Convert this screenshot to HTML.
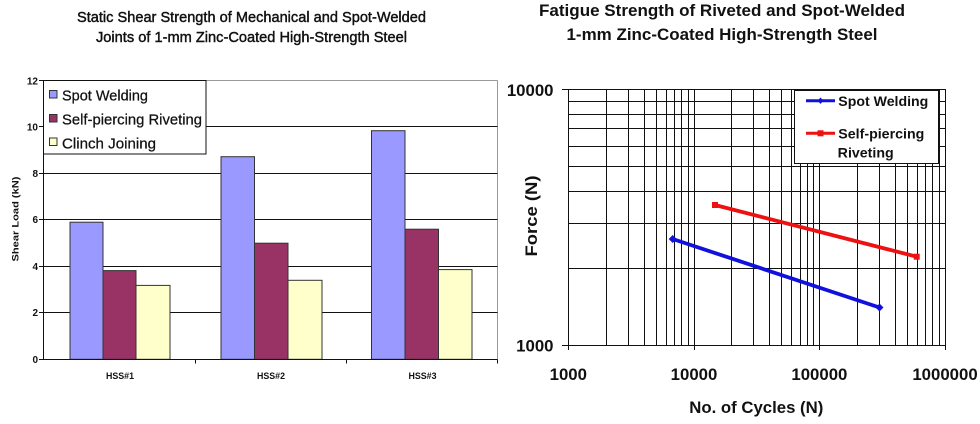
<!DOCTYPE html>
<html><head><meta charset="utf-8"><style>
html,body{margin:0;padding:0;background:#fff;}
svg{display:block;}
text{font-family:"Liberation Sans",Arial,sans-serif;fill:#111;}
</style></head><body>
<svg width="980" height="424" viewBox="0 0 980 424" xmlns="http://www.w3.org/2000/svg">
<rect width="980" height="424" fill="#fff"/>
<!-- LEFT CHART -->
<text x="251.5" y="22" font-size="15" text-anchor="middle" textLength="349" lengthAdjust="spacingAndGlyphs" style="stroke:#111;stroke-width:0.45">Static Shear Strength of Mechanical and Spot-Welded</text>
<text x="251.5" y="42" font-size="15" text-anchor="middle" textLength="311" lengthAdjust="spacingAndGlyphs" style="stroke:#111;stroke-width:0.45">Joints of 1-mm Zinc-Coated High-Strength Steel</text>
<g shape-rendering="crispEdges">
<line x1="43.5" y1="80.5" x2="497.5" y2="80.5" stroke="#999" stroke-width="1"/>
<line x1="497.5" y1="80.5" x2="497.5" y2="359.5" stroke="#999" stroke-width="1"/>
<line x1="43.5" y1="126.5" x2="497.5" y2="126.5" stroke="#111"/>
<line x1="43.5" y1="173.5" x2="497.5" y2="173.5" stroke="#111"/>
<line x1="43.5" y1="219.5" x2="497.5" y2="219.5" stroke="#111"/>
<line x1="43.5" y1="266.5" x2="497.5" y2="266.5" stroke="#111"/>
<line x1="43.5" y1="312.5" x2="497.5" y2="312.5" stroke="#111"/>
<!-- ticks -->
<line x1="39" y1="80.5" x2="43.5" y2="80.5" stroke="#111"/>
<line x1="39" y1="126.5" x2="43.5" y2="126.5" stroke="#111"/>
<line x1="39" y1="173.5" x2="43.5" y2="173.5" stroke="#111"/>
<line x1="39" y1="219.5" x2="43.5" y2="219.5" stroke="#111"/>
<line x1="39" y1="266.5" x2="43.5" y2="266.5" stroke="#111"/>
<line x1="39" y1="312.5" x2="43.5" y2="312.5" stroke="#111"/>
<line x1="39" y1="359.5" x2="43.5" y2="359.5" stroke="#111"/>
<line x1="195.5" y1="359.5" x2="195.5" y2="363.5" stroke="#111"/>
<line x1="346.5" y1="359.5" x2="346.5" y2="363.5" stroke="#111"/>
<line x1="497.5" y1="359.5" x2="497.5" y2="363.5" stroke="#111"/>
</g>
<!-- bars -->
<g stroke="#333" stroke-width="1">
<rect x="70" y="222.2" width="33" height="137.1" fill="#9999FF"/>
<rect x="103" y="270.6" width="33" height="88.7" fill="#993366"/>
<rect x="136" y="285.4" width="34" height="73.9" fill="#FFFFCC"/>
<rect x="221" y="156.7" width="33.5" height="202.6" fill="#9999FF"/>
<rect x="254.5" y="243.2" width="33.5" height="116.1" fill="#993366"/>
<rect x="288" y="280.3" width="34" height="79" fill="#FFFFCC"/>
<rect x="371.5" y="130.7" width="33.5" height="228.6" fill="#9999FF"/>
<rect x="405" y="229.2" width="33.5" height="130.1" fill="#993366"/>
<rect x="438.5" y="269.6" width="33.5" height="89.7" fill="#FFFFCC"/>
</g>
<line x1="43.5" y1="80" x2="43.5" y2="359.5" stroke="#111" shape-rendering="crispEdges"/>
<line x1="43.5" y1="359.5" x2="497.5" y2="359.5" stroke="#111" shape-rendering="crispEdges"/>
<!-- legend -->
<rect x="43.5" y="80.5" width="162.5" height="73.5" fill="#fff" stroke="#111" stroke-width="1" shape-rendering="crispEdges"/>
<rect x="49.5" y="90.5" width="7.5" height="7.5" fill="#9999FF" stroke="#333" stroke-width="1"/>
<rect x="49.5" y="114.5" width="7.5" height="7.5" fill="#993366" stroke="#333" stroke-width="1"/>
<rect x="49.5" y="138" width="7.5" height="7.5" fill="#FFFFCC" stroke="#333" stroke-width="1"/>
<g style="stroke:#111;stroke-width:0.25">
<text x="62" y="100.5" font-size="14.5" textLength="86" lengthAdjust="spacingAndGlyphs">Spot Welding</text>
<text x="62" y="124.5" font-size="14.5" textLength="140" lengthAdjust="spacingAndGlyphs">Self-piercing Riveting</text>
<text x="62" y="148.5" font-size="14.5" textLength="94" lengthAdjust="spacingAndGlyphs">Clinch Joining</text>
</g>
<!-- y labels -->
<g font-size="10" font-weight="bold" text-anchor="end">
<text x="38" y="84.5">12</text>
<text x="38" y="130.5">10</text>
<text x="38" y="177">8</text>
<text x="38" y="223">6</text>
<text x="38" y="270">4</text>
<text x="38" y="316">2</text>
<text x="38" y="363">0</text>
</g>
<text transform="translate(18.5,219) rotate(-90)" font-size="9.5" font-weight="bold" text-anchor="middle" textLength="85" lengthAdjust="spacingAndGlyphs">Shear Load (kN)</text>
<g font-size="9" font-weight="bold" text-anchor="middle">
<text x="120" y="379" textLength="28" lengthAdjust="spacingAndGlyphs">HSS#1</text>
<text x="271" y="379" textLength="28" lengthAdjust="spacingAndGlyphs">HSS#2</text>
<text x="422.5" y="379" textLength="28" lengthAdjust="spacingAndGlyphs">HSS#3</text>
</g>

<!-- RIGHT CHART -->
<text x="722" y="16" font-size="17" font-weight="bold" text-anchor="middle" textLength="366" lengthAdjust="spacingAndGlyphs">Fatigue Strength of Riveted and Spot-Welded</text>
<text x="722" y="40" font-size="17" font-weight="bold" text-anchor="middle" textLength="311" lengthAdjust="spacingAndGlyphs">1-mm Zinc-Coated High-Strength Steel</text>
<g stroke="#111" stroke-width="1" shape-rendering="crispEdges">
<!-- horizontal grid -->
<line x1="568" y1="89.5" x2="945" y2="89.5"/>
<line x1="568" y1="101.5" x2="945" y2="101.5"/>
<line x1="568" y1="114.5" x2="945" y2="114.5"/>
<line x1="568" y1="128.5" x2="945" y2="128.5"/>
<line x1="568" y1="146.5" x2="945" y2="146.5"/>
<line x1="568" y1="166.5" x2="945" y2="166.5"/>
<line x1="568" y1="191.5" x2="945" y2="191.5"/>
<line x1="568" y1="223.5" x2="945" y2="223.5"/>
<line x1="568" y1="268.5" x2="945" y2="268.5"/>
<line x1="562" y1="345.5" x2="945" y2="345.5"/>
<line x1="562" y1="89.5" x2="568" y2="89.5"/>
<!-- vertical grid -->
<line x1="568.5" y1="89" x2="568.5" y2="345.5"/>
<line x1="606.5" y1="89" x2="606.5" y2="345.5"/>
<line x1="628.5" y1="89" x2="628.5" y2="345.5"/>
<line x1="644.5" y1="89" x2="644.5" y2="345.5"/>
<line x1="656.5" y1="89" x2="656.5" y2="345.5"/>
<line x1="666.5" y1="89" x2="666.5" y2="345.5"/>
<line x1="674.5" y1="89" x2="674.5" y2="345.5"/>
<line x1="681.5" y1="89" x2="681.5" y2="345.5"/>
<line x1="688.5" y1="89" x2="688.5" y2="345.5"/>
<line x1="694.5" y1="89" x2="694.5" y2="350"/>
<line x1="731.5" y1="89" x2="731.5" y2="345.5"/>
<line x1="753.5" y1="89" x2="753.5" y2="345.5"/>
<line x1="769.5" y1="89" x2="769.5" y2="345.5"/>
<line x1="781.5" y1="89" x2="781.5" y2="345.5"/>
<line x1="791.5" y1="89" x2="791.5" y2="345.5"/>
<line x1="800.5" y1="89" x2="800.5" y2="345.5"/>
<line x1="807.5" y1="89" x2="807.5" y2="345.5"/>
<line x1="813.5" y1="89" x2="813.5" y2="345.5"/>
<line x1="819.5" y1="89" x2="819.5" y2="350"/>
<line x1="857.5" y1="89" x2="857.5" y2="345.5"/>
<line x1="879.5" y1="89" x2="879.5" y2="345.5"/>
<line x1="895.5" y1="89" x2="895.5" y2="345.5"/>
<line x1="907.5" y1="89" x2="907.5" y2="345.5"/>
<line x1="917.5" y1="89" x2="917.5" y2="345.5"/>
<line x1="925.5" y1="89" x2="925.5" y2="345.5"/>
<line x1="932.5" y1="89" x2="932.5" y2="345.5"/>
<line x1="939.5" y1="89" x2="939.5" y2="345.5"/>
<line x1="945.5" y1="89" x2="945.5" y2="350"/>
<line x1="568.5" y1="345" x2="568.5" y2="350"/>
</g>
<!-- series -->
<line x1="715" y1="205" x2="916.7" y2="256.7" stroke="#ee1111" stroke-width="3.8"/>
<rect x="712" y="202" width="6" height="6" fill="#ee1111"/>
<rect x="913.7" y="253.7" width="6" height="6" fill="#ee1111"/>
<line x1="672.7" y1="239" x2="879.5" y2="307.5" stroke="#1111dd" stroke-width="3.8"/>
<path d="M672.7 235 L676.7 239 L672.7 243 L668.7 239 Z" fill="#1111dd"/>
<path d="M879.5 303.5 L883.5 307.5 L879.5 311.5 L875.5 307.5 Z" fill="#1111dd"/>
<!-- legend -->
<rect x="794.5" y="90.5" width="144" height="73" fill="#fff" stroke="#111" stroke-width="1" shape-rendering="crispEdges"/>
<line x1="806" y1="100.7" x2="835" y2="100.7" stroke="#1111dd" stroke-width="3"/>
<path d="M820.5 97.5 L823.5 100.7 L820.5 103.9 L817.5 100.7 Z" fill="#1111dd"/>
<line x1="806" y1="133.3" x2="835" y2="133.3" stroke="#ee1111" stroke-width="3"/>
<rect x="817.5" y="130.3" width="6" height="6" fill="#ee1111"/>
<g font-size="14" font-weight="bold">
<text x="838.3" y="106" textLength="90" lengthAdjust="spacingAndGlyphs">Spot Welding</text>
<text x="838.3" y="138.5" textLength="86" lengthAdjust="spacingAndGlyphs">Self-piercing</text>
<text x="837.7" y="157.5" textLength="56" lengthAdjust="spacingAndGlyphs">Riveting</text>
</g>
<!-- axis labels -->
<g font-size="16.8" font-weight="bold">
<text x="553.5" y="96" text-anchor="end">10000</text>
<text x="553.5" y="351.5" text-anchor="end">1000</text>
<text x="568.3" y="380" text-anchor="middle">1000</text>
<text x="694" y="380" text-anchor="middle">10000</text>
<text x="819.4" y="380" text-anchor="middle">100000</text>
<text x="945" y="380" text-anchor="middle">1000000</text>
</g>
<text x="756.3" y="413" font-size="16.5" font-weight="bold" text-anchor="middle" textLength="134" lengthAdjust="spacingAndGlyphs">No. of Cycles (N)</text>
<text transform="translate(537,216) rotate(-90)" font-size="17" font-weight="bold" text-anchor="middle" textLength="81" lengthAdjust="spacingAndGlyphs">Force (N)</text>
</svg>
</body></html>
